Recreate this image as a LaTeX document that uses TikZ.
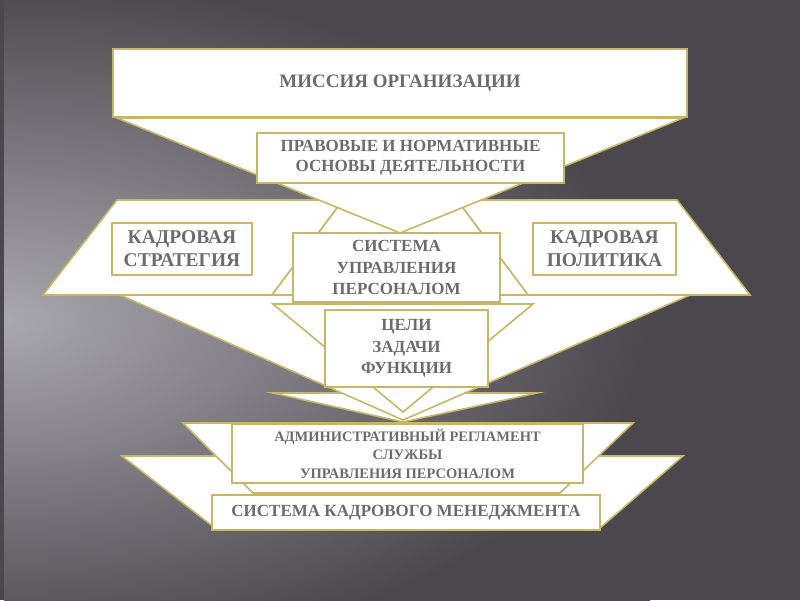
\documentclass[tikz,border=0pt]{standalone}
\usepackage{fontspec}
\setmainfont{Liberation Serif}
\definecolor{bgLight}{RGB}{170,168,175}
\definecolor{bgDark}{RGB}{74,72,77}
\definecolor{goldLine}{RGB}{200,182,104}
\definecolor{txtGray}{RGB}{108,108,111}
\pgfdeclareradialshading{bgglow}{\pgfpoint{0bp}{0bp}}{color(0bp)=(bgLight); color(25bp)=(bgDark); color(50bp)=(bgDark)}
\begin{document}
\begin{tikzpicture}[x=1pt,y=-1pt,
    part/.style={fill=white, draw=goldLine, line width=1.6pt, line join=miter},
    box/.style={part, inner sep=0pt, align=center, text=txtGray, font=\bfseries\fontsize{17}{21.5}\selectfont}]
  \useasboundingbox (0,0) rectangle (800,600);
  % background
  \fill[bgDark] (0,0) rectangle (800,600);
  \begin{scope}
    \clip (4,0) rectangle (800,600);
    \shade[shading=bgglow] (-650,-20) rectangle (650,660);
  \end{scope}
  % shapes, back to front
  \draw[part] (273,393) -- (537,393) -- (403,422) -- cycle;
  \draw[part] (120,295) -- (690,295) -- (403,420) -- cycle;
  \draw[part] (117,200) -- (343,200) -- (272,295) -- (43,295) -- cycle;
  \draw[part] (457,200) -- (677,200) -- (750,295) -- (528,295) -- cycle;
  \draw[part] (343,200) -- (457,200) -- (528,295) -- (272,295) -- cycle;
  \draw[part] (117,118) -- (683,118) -- (400,233) -- cycle;
  \draw[part] (273,304) -- (533,304) -- (403,412) -- cycle;
  \draw[part] (122,456) -- (683,456) -- (600,528) -- (215,528) -- cycle;
  \draw[part] (183,423) -- (633,423) -- (560,493) -- (253,493) -- cycle;
  % boxes
  \node[box, minimum width=574, minimum height=68, font=\bfseries\fontsize{19}{22}\selectfont] (mission) at (400,83) {МИССИЯ ОРГАНИЗАЦИИ};
  \node[box, minimum width=307, minimum height=50, font=\bfseries\fontsize{17}{20}\selectfont] (legal) at (410.5,158) {ПРАВОВЫЕ И НОРМАТИВНЫЕ\\ОСНОВЫ ДЕЯТЕЛЬНОСТИ};
  \node[box, minimum width=140, minimum height=52, font=\bfseries\fontsize{19.5}{23}\selectfont] (strategy) at (182,249) {КАДРОВАЯ\\СТРАТЕГИЯ};
  \node[box, minimum width=143, minimum height=52, font=\bfseries\fontsize{19.5}{23}\selectfont] (policy) at (604.5,249) {КАДРОВАЯ\\ПОЛИТИКА};
  \node[box, minimum width=207, minimum height=69] (system) at (396.5,267.5) {СИСТЕМА\\УПРАВЛЕНИЯ\\ПЕРСОНАЛОМ};
  \node[box, minimum width=163, minimum height=77] (goals) at (406.5,348.5) {ЦЕЛИ\\ЗАДАЧИ\\ФУНКЦИИ};
  \node[box, minimum width=351, minimum height=59, font=\bfseries\fontsize{14.5}{18.5}\selectfont] (rules) at (407.5,453.5) {АДМИНИСТРАТИВНЫЙ РЕГЛАМЕНТ\\СЛУЖБЫ\\УПРАВЛЕНИЯ ПЕРСОНАЛОМ};
  \node[box, minimum width=388, minimum height=35] (hrm) at (406,512.5) {СИСТЕМА КАДРОВОГО МЕНЕДЖМЕНТА};
\end{tikzpicture}
\end{document}
